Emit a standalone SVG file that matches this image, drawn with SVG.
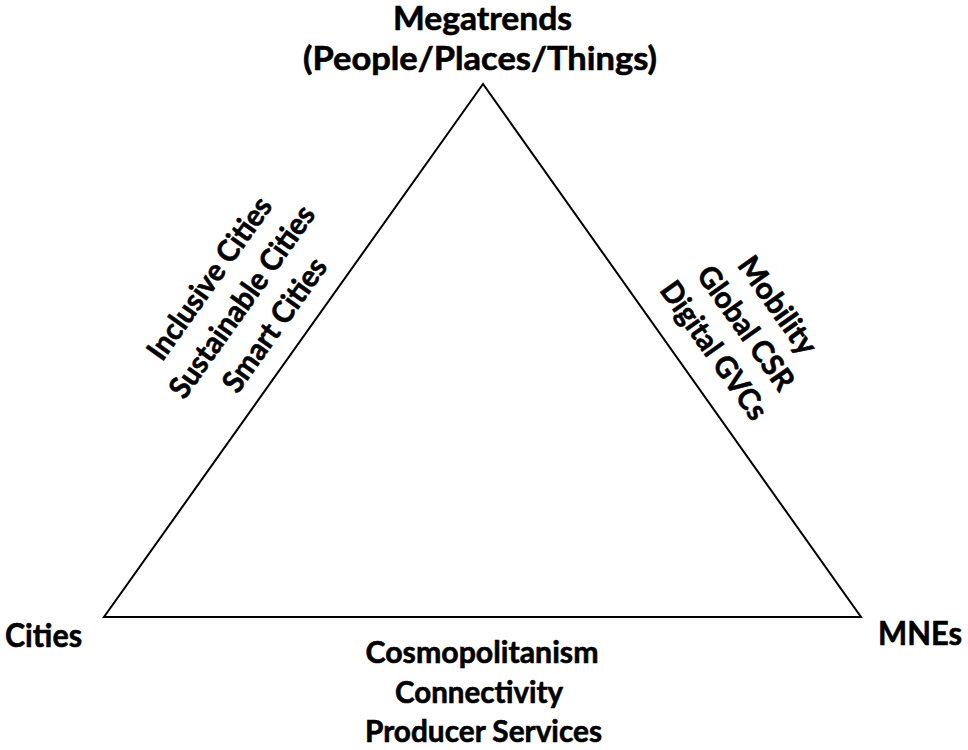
<svg xmlns="http://www.w3.org/2000/svg" width="968" height="750" viewBox="0 0 968 750">
  <style>
    .t { font-family: Lato, "Open Sans", "Liberation Sans", sans-serif; font-weight: 700; fill: #000; stroke: #000; stroke-width: 0.6; text-anchor: middle; }
    .big { font-size: 33px; }
    .mid { font-size: 30px; }
    .edge { fill: none; stroke: #000; stroke-width: 2; stroke-linejoin: miter; }
  </style>
  <rect width="968" height="750" fill="#fff"/>
  <g id="connectors">
    <polygon class="edge" points="483,84 104,617 861,617"/>
  </g>
  <g id="node-megatrends">
    <text class="t big" x="482.5" y="30" textLength="179" lengthAdjust="spacingAndGlyphs">Megatrends</text>
    <text class="t big" x="480" y="70" textLength="354" lengthAdjust="spacingAndGlyphs">(People/Places/Things)</text>
  </g>
  <g id="node-cities">
    <text class="t big" x="43.5" y="647" textLength="77" lengthAdjust="spacingAndGlyphs">Cities</text>
  </g>
  <g id="node-mnes">
    <text class="t big" x="920" y="645" textLength="84" lengthAdjust="spacingAndGlyphs">MNEs</text>
  </g>
  <g id="label-left" transform="translate(299.3,342.3) rotate(-54.6)">
    <text class="t mid" x="0" y="-100" textLength="192" lengthAdjust="spacingAndGlyphs">Inclusive Cities</text>
    <text class="t mid" x="0" y="-60" textLength="228" lengthAdjust="spacingAndGlyphs">Sustainable Cities</text>
    <text class="t mid" x="0" y="-20" textLength="157" lengthAdjust="spacingAndGlyphs">Smart Cities</text>
  </g>
  <g id="label-right" transform="translate(686,370.3) rotate(54.65)">
    <text class="t mid" x="0" y="-102" textLength="113" lengthAdjust="spacingAndGlyphs">Mobility</text>
    <text class="t mid" x="0" y="-63" textLength="145" lengthAdjust="spacingAndGlyphs">Global CSR</text>
    <text class="t mid" x="0" y="-24" textLength="162" lengthAdjust="spacingAndGlyphs">Digital GVCs</text>
  </g>
  <g id="label-bottom">
    <text class="t mid" x="482" y="663" textLength="233" lengthAdjust="spacingAndGlyphs">Cosmopolitanism</text>
    <text class="t mid" x="479" y="703" textLength="168" lengthAdjust="spacingAndGlyphs">Connectivity</text>
    <text class="t mid" x="483.5" y="742" textLength="237" lengthAdjust="spacingAndGlyphs">Producer Services</text>
  </g>
</svg>
